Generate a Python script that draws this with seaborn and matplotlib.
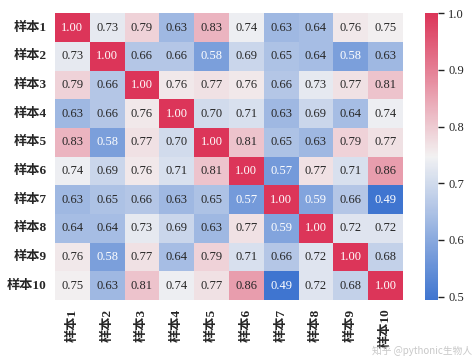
import numpy as np
import pandas as pd
import matplotlib
matplotlib.use("Agg")
import matplotlib.pyplot as plt
import seaborn as sns

labels = [f"样本{i}" for i in range(1, 11)]
r1 = [1.00, 0.73, 0.79, 0.63, 0.83, 0.74, 0.63, 0.64, 0.76, 0.75]
r2 = [0.73, 1.00, 0.66, 0.66, 0.58, 0.69, 0.65, 0.64, 0.58, 0.63]
r3 = [0.79, 0.66, 1.00, 0.76, 0.77, 0.76, 0.66, 0.73, 0.77, 0.81]
r4 = [0.63, 0.66, 0.76, 1.00, 0.70, 0.71, 0.63, 0.69, 0.64, 0.74]
r5 = [0.83, 0.58, 0.77, 0.70, 1.00, 0.81, 0.65, 0.63, 0.79, 0.77]
r6 = [0.74, 0.69, 0.76, 0.71, 0.81, 1.00, 0.57, 0.77, 0.71, 0.86]
r7 = [0.63, 0.65, 0.66, 0.63, 0.65, 0.57, 1.00, 0.59, 0.66, 0.49]
r8 = [0.64, 0.64, 0.73, 0.69, 0.63, 0.77, 0.59, 1.00, 0.72, 0.72]
r9 = [0.76, 0.58, 0.77, 0.64, 0.79, 0.71, 0.66, 0.72, 1.00, 0.68]
r10 = [0.75, 0.63, 0.81, 0.74, 0.77, 0.86, 0.49, 0.72, 0.68, 1.00]

df = pd.DataFrame([r1, r2, r3, r4, r5, r6, r7, r8, r9, r10], index=labels, columns=labels)

sns.set_theme(style="white")
plt.rcParams["font.family"] = ["Liberation Serif", "Noto Sans CJK SC", "DejaVu Sans"]

fig = plt.figure(figsize=(4.74, 3.56), dpi=100)
ax = fig.add_axes([0.116, 0.157, 0.734, 0.806])
cax = fig.add_axes([0.897, 0.157, 0.027, 0.806])

cmap = sns.diverging_palette(255, 5, s=80, l=50, as_cmap=True)
sns.heatmap(df, ax=ax, cbar_ax=cax, cmap=cmap, vmin=0.494, vmax=1.0, center=0.747,
            annot=True, fmt=".2f", annot_kws={"size": 9})

for t in ax.get_xticklabels():
    t.set_rotation(90)
    t.set_fontweight("bold")
    t.set_fontsize(9.5)
for t in ax.get_yticklabels():
    t.set_rotation(0)
    t.set_fontweight("bold")
    t.set_fontsize(9.5)
ax.tick_params(axis="x", length=0, pad=6)
ax.tick_params(axis="y", length=0, pad=6)

cax.set_yticks([0.5, 0.6, 0.7, 0.8, 0.9, 1.0])
cax.tick_params(labelsize=9, length=4, width=1, color="#222222")
cax.set_yticklabels(["0.5", "0.6", "0.7", "0.8", "0.9", "1.0"])

# watermark
fig.text(0.995, 0.0, "知乎 @pythonic生物人", ha="right", va="bottom",
         fontsize=7, color="#c8c8c8", family=["Noto Sans CJK SC"])

fig.savefig("out.png", dpi=100)
